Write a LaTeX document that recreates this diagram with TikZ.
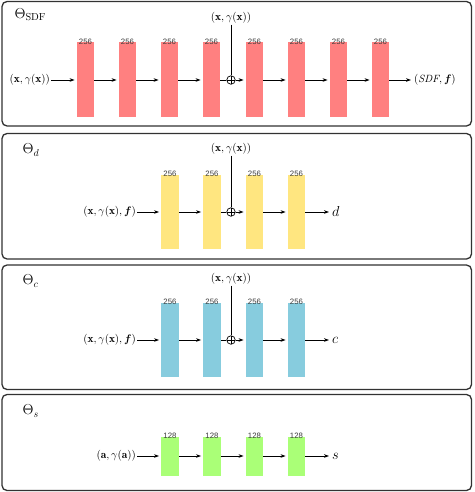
\documentclass[tikz,border=0pt]{standalone}
\usepackage{fontspec}
\usepackage{amsmath,bm}
\newfontfamily\lblfont{Liberation Sans}
\usetikzlibrary{arrows.meta}
\definecolor{cred}{RGB}{255,128,128}
\definecolor{cyel}{RGB}{255,230,128}
\definecolor{cblu}{RGB}{135,204,222}
\definecolor{cgrn}{RGB}{170,255,119}
\definecolor{frm}{RGB}{50,50,50}
\definecolor{lblc}{RGB}{60,60,60}
\begin{document}
\begin{tikzpicture}[x=1pt,y=-1pt,
  panel/.style={draw=frm,line width=1.3pt,rounded corners=5pt},
  bar/.style={rectangle,draw=none,minimum width=17.5pt,inner sep=0pt,
    label={[lblc,font=\lblfont\fontsize{7.8}{8}\selectfont,inner sep=0pt,yshift=-2.2pt]above:#1}},
  barbig/.style={bar=#1,minimum height=75pt},
  barsmall/.style={bar=#1,minimum height=39pt},
  arr/.style={-{Stealth[length=5pt,width=3.6pt]},line width=0.75pt,shorten >=2pt},
  ln/.style={line width=0.75pt},
  opl/.style={circle,draw,line width=0.7pt,minimum size=8.5pt,inner sep=0pt,
    path picture={\draw[line width=0.6pt] (path picture bounding box.north)--(path picture bounding box.south)
      (path picture bounding box.west)--(path picture bounding box.east);}},
  ttl/.style={anchor=west,font=\fontsize{14.5}{16}\selectfont},
  txt/.style={inner sep=1pt,font=\fontsize{11.3}{13}\selectfont},
  outl/.style={anchor=west,inner sep=1pt,font=\fontsize{13.5}{15}\selectfont}
]
\useasboundingbox (0,0) rectangle (474,492);
\fill[white] (0,0) rectangle (474,492);

% ---------- panel 1 ----------
\draw[panel] (2,1.5) rectangle (471.5,126);
\node[ttl] (t1) at (11,15) {$\Theta_{\mathrm{SDF}}$};
\foreach \i/\x in {1/85.5,2/127.5,3/169.5,4/211.5,5/254.5,6/296.5,7/338.5,8/380.5}{
  \node[barbig=256,fill=cred] (a\i) at (\x,80) {};
}
\node[txt,anchor=east] (ain) at (51,80) {$(\mathbf{x},\gamma(\mathbf{x}))$};
\node[txt,anchor=west,font=\fontsize{10.5}{12}\selectfont] (aout) at (413,80) {$(\mathit{SDF},\bm{f})$};
\node[opl] (ao) at (231,80) {};
\node[txt] (atop) at (231,18) {$(\mathbf{x},\gamma(\mathbf{x}))$};
\draw[arr] (ain) -- (a1);
\draw[arr] (a1) -- (a2);
\draw[arr] (a2) -- (a3);
\draw[arr] (a3) -- (a4);
\draw[ln] (a4) -- (ao);
\draw[arr] (ao) -- (a5);
\draw[arr] (a5) -- (a6);
\draw[arr] (a6) -- (a7);
\draw[arr] (a7) -- (a8);
\draw[arr] (a8) -- (aout);
\draw[ln] (atop) -- (ao);

% ---------- panel 2 ----------
\draw[panel] (2,133.5) rectangle (471.5,259);
\node[ttl] (t2) at (19,150) {$\Theta_{d}$};
\foreach \i/\x in {1/170,2/212,3/254.5,4/296.5}{
  \node[barbig=256,fill=cyel,minimum height=74pt] (b\i) at (\x,212) {};
}
\node[txt,anchor=east] (bin) at (137,212) {$(\mathbf{x},\gamma(\mathbf{x}),\bm{f})$};
\node[outl] (bout) at (331,211) {$d$};
\node[opl] (bo) at (231,212) {};
\node[txt] (btop) at (231,149) {$(\mathbf{x},\gamma(\mathbf{x}))$};
\draw[arr] (bin) -- (b1);
\draw[arr] (b1) -- (b2);
\draw[ln] (b2) -- (bo);
\draw[arr] (bo) -- (b3);
\draw[arr] (b3) -- (b4);
\draw[arr] (b4) -- (bout.west |- b4.east);
\draw[ln] (btop) -- (bo);

% ---------- panel 3 ----------
\draw[panel] (2,265) rectangle (471.5,389.5);
\node[ttl] (t3) at (19,281) {$\Theta_{c}$};
\foreach \i/\x in {1/170,2/212,3/254.5,4/296.5}{
  \node[barbig=256,fill=cblu,minimum height=74.6pt] (c\i) at (\x,340) {};
}
\node[txt,anchor=east] (cin) at (137,340) {$(\mathbf{x},\gamma(\mathbf{x}),\bm{f})$};
\node[outl] (cout) at (331,340) {$c$};
\node[opl] (co) at (231,340) {};
\node[txt] (ctop) at (231,279) {$(\mathbf{x},\gamma(\mathbf{x}))$};
\draw[arr] (cin) -- (c1);
\draw[arr] (c1) -- (c2);
\draw[ln] (c2) -- (co);
\draw[arr] (co) -- (c3);
\draw[arr] (c3) -- (c4);
\draw[arr] (c4) -- (cout);
\draw[ln] (ctop) -- (co);

% ---------- panel 4 ----------
\draw[panel] (2,394.5) rectangle (471.5,490.5);
\node[ttl] (t4) at (19,411) {$\Theta_{s}$};
\foreach \i/\x in {1/170,2/212,3/254.5,4/296.5}{
  \node[barsmall=128,fill=cgrn] (d\i) at (\x,456) {};
}
\node[txt,anchor=east] (din) at (137,456) {$(\mathbf{a},\gamma(\mathbf{a}))$};
\node[outl] (dout) at (331,456) {$s$};
\draw[arr] (din) -- (d1);
\draw[arr] (d1) -- (d2);
\draw[arr] (d2) -- (d3);
\draw[arr] (d3) -- (d4);
\draw[arr] (d4) -- (dout);
\end{tikzpicture}
\end{document}
